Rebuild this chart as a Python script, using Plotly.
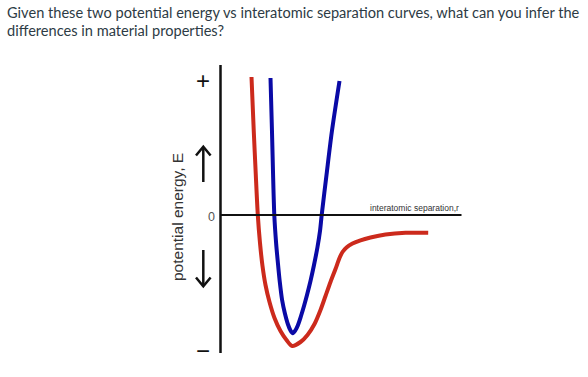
import plotly.graph_objects as go

# Interatomic separation r and potential energy E (arbitrary units)
red_r = [3.10, 3.33, 3.53, 3.73, 3.95, 4.20, 4.50, 4.90, 5.40, 6.00, 6.60, 7.17, 8.00, 8.70,
         9.40, 10.00, 10.50, 11.00, 11.50, 11.90, 12.20, 12.60, 13.20, 14.00, 15.00, 16.50,
         18.50, 20.77]
red_E = [13.8, 8.3, 4.0, 0.0, -2.8, -5.1, -7.0, -8.7, -10.3, -11.6, -12.5, -13.1, -12.7, -12.0,
         -10.9, -9.5, -8.1, -6.7, -5.4, -4.3, -3.7, -3.25, -2.85, -2.53, -2.25, -1.95,
         -1.78, -1.78]

blue_r = [5.00, 5.15, 5.38, 5.56, 5.76, 5.93, 6.16, 6.43, 6.75, 7.00, 7.23, 7.48, 7.73, 8.05,
          8.35, 8.65, 9.00, 9.35, 9.70, 9.95, 10.12, 10.60, 11.13, 11.90]
blue_E = [13.7, 8.3, 0.0, -2.8, -5.0, -6.7, -8.5, -9.8, -10.95, -11.55, -11.83, -11.55, -11.05, -10.1,
          -9.1, -8.0, -6.6, -5.0, -3.2, -1.6, 0.0, 4.0, 8.3, 13.4]

title_lines = ["Given these two potential energy vs interatomic separation curves, what can you infer the",
               "differences in material properties?"]
y_label = "potential energy, E"
x_label = "interatomic separation,r"

fig = go.Figure()
fig.add_trace(go.Scatter(x=red_r, y=red_E, mode="lines",
                         line=dict(color="#CC2A1C", width=4, shape="spline", smoothing=0.8),
                         hoverinfo="skip", showlegend=False))
fig.add_trace(go.Scatter(x=blue_r, y=blue_E, mode="lines",
                         line=dict(color="#0A0AA6", width=4, shape="spline", smoothing=0.8),
                         hoverinfo="skip", showlegend=False))

ax_col = "#111111"
shapes = [
    dict(type="line", x0=0, x1=0, y0=15.0, y1=-13.8, line=dict(color=ax_col, width=2.5)),
    dict(type="line", x0=0, x1=24.1, y0=0, y1=0, line=dict(color=ax_col, width=2)),
    # up arrow
    dict(type="line", x0=-1.72, x1=-1.72, y0=6.8, y1=3.3, line=dict(color=ax_col, width=2.5)),
    dict(type="path", path="M -2.45 5.95 L -1.72 6.83 L -0.99 5.95", line=dict(color=ax_col, width=2.5)),
    # down arrow
    dict(type="line", x0=-1.72, x1=-1.72, y0=-3.5, y1=-7.1, line=dict(color=ax_col, width=2.5)),
    dict(type="path", path="M -2.45 -6.25 L -1.72 -7.13 L -0.99 -6.25", line=dict(color=ax_col, width=2.5)),
]

ann = [
    dict(x=0.0085, y=1 - 12 / 377, xref="paper", yref="paper", text=title_lines[0],
         xanchor="left", yanchor="middle", showarrow=False,
         font=dict(family="Lato", size=14.6, color="#2D3B45")),
    dict(x=0.0085, y=1 - 30 / 377, xref="paper", yref="paper", text=title_lines[1],
         xanchor="left", yanchor="middle", showarrow=False,
         font=dict(family="Lato", size=14.6, color="#2D3B45")),
    dict(x=-4.35, y=-0.2, text=y_label, textangle=-90, showarrow=False,
         xanchor="center", yanchor="middle",
         font=dict(family="Liberation Sans, Arial", size=15.5, color="#333333")),
    dict(x=24.0, y=0.68, text=x_label, showarrow=False, xanchor="right", yanchor="middle",
         font=dict(family="Liberation Sans, Arial", size=8.5, color="#333333")),
    dict(x=-1.72, y=13.5, text="+", showarrow=False, xanchor="center", yanchor="middle",
         font=dict(family="Liberation Sans, Arial", size=24, color="#111111")),
    dict(x=-1.72, y=-13.5, text="\u2212", showarrow=False, xanchor="center", yanchor="middle",
         font=dict(family="Liberation Sans, Arial", size=24, color="#111111")),
    dict(x=-0.95, y=-0.15, text="0", showarrow=False, xanchor="center", yanchor="middle",
         font=dict(family="Liberation Sans, Arial", size=12.5, color="#555555")),
]

fig.update_layout(
    width=588, height=377,
    margin=dict(l=0, r=0, t=0, b=0),
    paper_bgcolor="white", plot_bgcolor="white",
    xaxis=dict(range=[-22.05, 36.75], visible=False, fixedrange=True),
    yaxis=dict(range=[-16.2, 21.5], visible=False, fixedrange=True),
    shapes=shapes, annotations=ann,
)

fig.write_html("out.html", config={"displayModeBar": False},
               post_script="document.body.style.margin='0';document.body.style.overflow='hidden';")
